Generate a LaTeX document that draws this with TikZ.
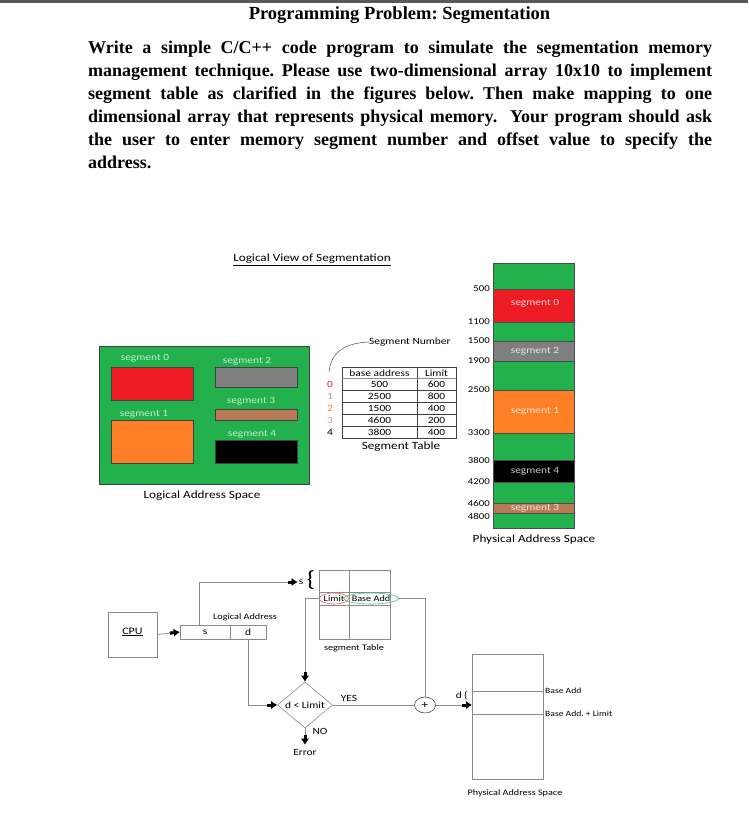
\documentclass[tikz,border=0pt]{standalone}
\usepackage{fontspec}
\setmainfont{Liberation Serif}
\newfontfamily\diafont[FakeStretch=1.2]{Carlito}
\usepackage{tikz}
\usetikzlibrary{arrows.meta,shapes.geometric}
\definecolor{lgreen}{HTML}{22B14C}
\definecolor{segred}{HTML}{ED1C24}
\definecolor{seggray}{HTML}{7F7F7F}
\definecolor{segorange}{HTML}{FF7F27}
\definecolor{segbrown}{HTML}{B97A57}
\definecolor{wire}{HTML}{8A8A8A}
\newcommand{\dfs}[1]{\diafont\fontsize{#1}{#1}\selectfont}
\frenchspacing
\tikzset{
  segblk/.style={rectangle, draw=black!75, line width=0.6pt, inner sep=0pt, anchor=north west},
  seglbl/.style={font=\dfs{9.5}, text=white!75!lgreen, inner sep=1pt},
  pcell/.style={draw=black!70, line width=0.6pt},
  addr/.style={font=\dfs{9}, inner sep=1pt, anchor=east},
  tcell/.style={font=\dfs{9.5}, inner sep=0pt},
  lbl/.style={font=\dfs{8.5}, inner sep=1pt},
  title/.style={font=\dfs{11}, inner sep=1pt},
  ubox/.style={rectangle, draw=wire, line width=0.6pt, inner sep=0pt},
  wireline/.style={draw=wire, line width=0.7pt},
  flow/.style={wireline, -{Rectangle[length=4pt,width=3pt,black]Latex[length=6pt,width=8pt,black]}},
}

\begin{document}
\begin{tikzpicture}[x=1pt,y=-1pt]
\useasboundingbox (0,0) rectangle (748,833);
\fill[black!65] (0,0) rectangle (748,2.5);

% the task
\node[font=\bfseries\fontsize{18.5}{22}\selectfont, inner sep=0pt] (head) at (399.5,15) {Programming Problem: Segmentation};
\node[anchor=north west, text width=624pt, align=justify, inner sep=0pt,
      font=\bfseries\fontsize{18}{23}\selectfont] (task) at (88,40.5)
  {Write a simple C/C++ code program to simulate the segmentation memory\linebreak
   management technique. Please use two-dimensional array 10x10 to implement\linebreak
   segment table as clarified in the figures below. Then make mapping to one\linebreak
   dimensional array that represents physical memory.\ \ Your program should ask\linebreak
   the user to enter memory segment number and offset value to specify the\linebreak
   address.};

% logical view
\node[title] (lview) at (312,260) {\underline{Logical View of Segmentation}};
\node[segblk, fill=lgreen, minimum width=210, minimum height=138] (lspace) at (99,346) {};
\node[segblk, fill=segred,    minimum width=82, minimum height=33] (ls0) at (111,367) {};
\node[segblk, fill=segorange, minimum width=82, minimum height=43] (ls1) at (111,420) {};
\node[segblk, fill=seggray,   minimum width=82, minimum height=20] (ls2) at (215,367) {};
\node[segblk, fill=segbrown,  minimum width=82, minimum height=11] (ls3) at (215,409) {};
\node[segblk, fill=black,     minimum width=82, minimum height=23] (ls4) at (215,440) {};
\node[seglbl] (lt0) at (145,358) {segment 0};
\node[seglbl] (lt1) at (144,414) {segment 1};
\node[seglbl] (lt2) at (247,361) {segment 2};
\node[seglbl] (lt3) at (251,401) {segment 3};
\node[seglbl] (lt4) at (252,434) {segment 4};
\node[title] (lname) at (202,496) {Logical Address Space};

% segment table
\draw[line width=0.6pt, draw=black!75] (342,367) rectangle (456,438) (417,367) -- (417,438);
\draw[line width=1.2pt, draw=black!45] (342,378.5) -- (456,378.5);
\foreach \k in {1,...,4} \draw[line width=0.6pt, draw=black!75] (342,378+12*\k) -- (456,378+12*\k);
\node[tcell] (hbase) at (379.5,373) {base address};
\node[tcell] (hlim) at (436.5,373) {Limit};
\foreach \i/\b/\l/\c in {0/500/600/segred, 1/2500/800/black!35, 2/1500/400/segorange, 3/4600/200/segbrown!70, 4/3800/400/black}{
  \node[tcell, text=\c] (n\i) at (330,384+12*\i) {\i};
  \node[tcell] (b\i) at (379.5,384+12*\i) {\b};
  \node[tcell] (l\i) at (436.5,384+12*\i) {\l};
}
\node[title] (tname) at (401,447) {Segment Table};
\node[tcell, anchor=west] (snum) at (369,342) {Segment Number};
\coordinate (snumtip) at (329,372);
\draw[line width=0.5pt, draw=black!70] (snumtip) .. controls (331,352) and (345,343) .. (snum.west);

% physical memory
\foreach \t/\b/\c in {263/289/lgreen, 289/322/segred, 322/341/lgreen, 341/361/seggray, 361/390/lgreen,
  390/433/segorange, 433/460/lgreen, 460/482/black, 482/503/lgreen, 503/513/segbrown, 513/528/lgreen}
  \draw[pcell, fill=\c] (493,\t) rectangle (574,\b);
\foreach \a/\y in {500/289, 1100/322, 1500/341, 1900/361, 2500/390, 3300/433, 3800/460, 4200/482, 4600/503, 4800/516}
  \node[addr] (a\a) at (491,\y) {\a};
\foreach \n/\y/\c in {0/303/segred, 2/351/seggray, 1/411/segorange, 4/471/black, 3/508/segbrown}
  \node[seglbl, text=white!80!\c] (ps\n) at (535,\y) {segment \n};
\node[title] (pname) at (534,540) {Physical Address Space};

% translation hardware
\node[ubox, minimum width=49, minimum height=45] (cpu) at (132.5,634.5) {};
\node[font=\dfs{10}] (cput) at (132.5,632) {\underline{CPU}};
\node[ubox, minimum width=50, minimum height=14, font=\dfs{9.5}] (lsc) at (205,632) {s};
\node[ubox, minimum width=36, minimum height=14, font=\dfs{9.5}] (ldc) at (248,632) {d};
\node[lbl] (laddr) at (245,617) {Logical Address};
\draw[flow] (cpu.east) -- (lsc.west);
\node[font=\dfs{9.5}, inner sep=0pt] (sidx) at (301,582) {s};
\node[font=\dfs{22}, inner sep=0pt] (sbr) at (311,580) {\{};
\draw[flow] ([xshift=-6pt]lsc.north) |- ([xshift=-1pt]sidx.west);

\draw[wireline] (319,570) rectangle (390,639) (349,570) -- (349,639) (319,592) -- (390,592) (319,605) -- (390,605);
\node[ellipse, draw=segred!70, line width=0.6pt, inner sep=0pt, minimum width=28, minimum height=11, font=\dfs{8.5}] (lim) at (334,598.5) {Limit};
\node[ellipse, draw=lgreen!80, line width=0.6pt, inner sep=0pt, minimum width=45, minimum height=11, font=\dfs{8.5}] (badd) at (371,598.5) {Base Add};
\node[lbl] (stname) at (354,648) {segment Table};

\node[diamond, draw=wire, line width=0.6pt, aspect=1.2, inner sep=0pt, minimum width=55, minimum height=46, font=\dfs{9.5}] (cmp) at (305,705) {d < Limit};
\node[ellipse, draw=black!70, line width=0.6pt, inner sep=0pt, minimum width=21, minimum height=16, font=\dfs{11}] (plus) at (425,705) {+};
\node[font=\dfs{9.5}, inner sep=0pt] (yes) at (349,698) {YES};
\node[font=\dfs{9.5}, inner sep=0pt] (no) at (320,731) {NO};
\node[font=\dfs{9.5}, inner sep=0pt] (err) at (305,752) {Error};

\draw[flow] (lim.west) -| (cmp.north);
\draw[wireline] (badd.east) -| (plus.north);
\draw[flow] (ldc.south) |- (cmp.west);
\draw[wireline] (cmp.east) -- (plus.west);
\draw[flow] (cmp.south) -- ([yshift=4pt]err.north);

\node[ubox, minimum width=71, minimum height=125, anchor=north west] (pbox) at (472,654) {};
\draw[wireline] (472,691) -- (543,691) (472,714) -- (543,714);
\node[font=\dfs{8}, inner sep=1pt, anchor=west] (pbase) at (544,691) {Base Add};
\node[font=\dfs{8}, inner sep=1pt, anchor=west] (plimit) at (544,714) {Base Add. + Limit};
\node[font=\dfs{9.5}, inner sep=0pt] (doff) at (462,696) {d \{};
\draw[flow] (plus.east) -- (pbox.west |- plus.east);
\node[lbl] (pname2) at (515,793) {Physical Address Space};
\end{tikzpicture}
\end{document}
